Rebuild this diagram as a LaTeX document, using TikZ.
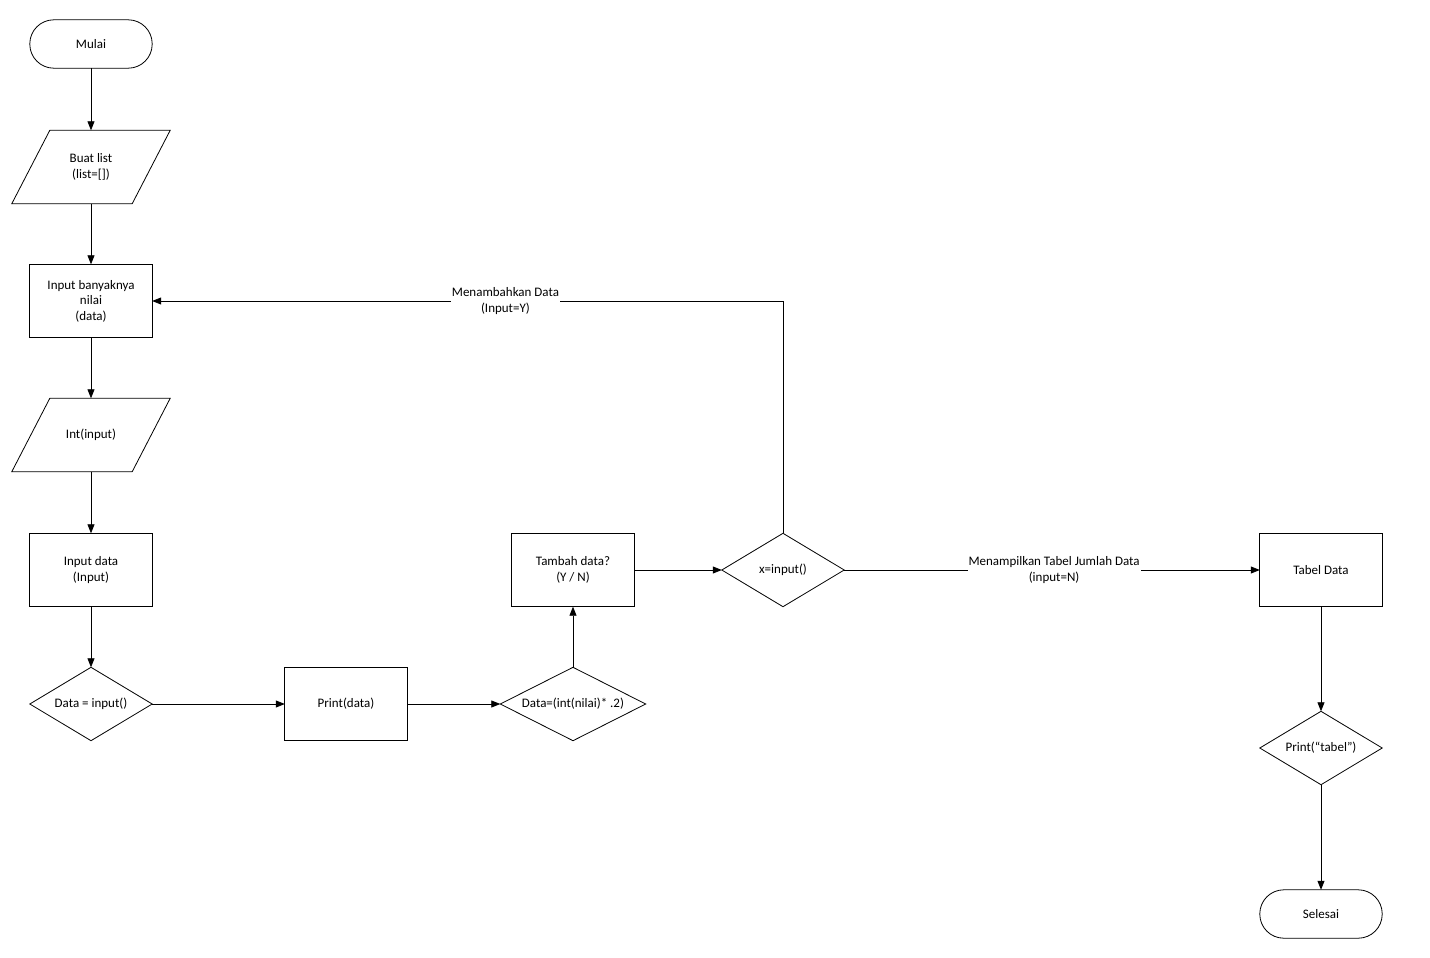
\documentclass[tikz,border=0pt]{standalone}
\usepackage{fontspec}
\setmainfont{Carlito}
\usetikzlibrary{arrows.meta}
\begin{document}
\begin{tikzpicture}[x=1pt,y=-1pt,
  box/.style={draw=none,minimum width=#1,minimum height=73,inner sep=0,align=center,font=\fontsize{13}{15.5}\selectfont},
  box/.default=122,
  shp/.style={draw=black,line width=0.8pt},
  arr/.style={draw=black,line width=0.8pt,-{Triangle[length=9,width=7]}},
  lbl/.style={fill=white,inner sep=1,align=center,font=\fontsize{13}{15.5}\selectfont}]
\useasboundingbox (0,0) rectangle (1430,958);
% nodes
\node[box,minimum height=48] (mulai) at (91,44) {Mulai};
\node[box=158] (buat) at (91,167) {Buat list\\(list=[])};
\node[box] (inb) at (91,301) {Input banyaknya\\nilai\\(data)};
\node[box=158] (intin) at (91,435) {Int(input)};
\node[box] (ind) at (91,570) {Input data\\(Input)};
\node[box] (dinp) at (91,704) {Data = input()};
\node[box] (prd) at (346,704) {Print(data)};
\node[box=145] (dcalc) at (573,704) {Data=(int(nilai)* .2)};
\node[box] (tam) at (573,570) {Tambah data?\\(Y / N)};
\node[box] (xin) at (783,570) {x=input()};
\node[box] (tab) at (1321,570) {Tabel Data};
\node[box] (ptab) at (1321,748) {Print(“tabel”)};
\node[box,minimum height=48] (sel) at (1321,914) {Selesai};
% shapes
\draw[shp,rounded corners=24] (mulai.north west) rectangle (mulai.south east);
\draw[shp,rounded corners=24] (sel.north west) rectangle (sel.south east);
\foreach \n in {buat,intin}
  \draw[shp] ([xshift=38]\n.north west) -- (\n.north east) -- ([xshift=-38]\n.south east) -- (\n.south west) -- cycle;
\foreach \n in {inb,ind,prd,tam,tab}
  \draw[shp] (\n.north west) rectangle (\n.south east);
\foreach \n in {dinp,dcalc,xin,ptab}
  \draw[shp] (\n.north) -- (\n.east) -- (\n.south) -- (\n.west) -- cycle;
% connectors
\draw[arr] (mulai) -- (buat);
\draw[arr] (buat) -- (inb);
\draw[arr] (inb) -- (intin);
\draw[arr] (intin) -- (ind);
\draw[arr] (ind) -- (dinp);
\draw[arr] (dinp) -- (prd);
\draw[arr] (prd) -- (dcalc);
\draw[arr] (dcalc) -- (tam);
\draw[arr] (tam) -- (xin);
\draw[arr] (xin.north) |- node[lbl,pos=0.72] {Menambahkan Data\\(Input=Y)} (inb.east);
\draw[arr] (xin) -- node[lbl,pos=0.505] {Menampilkan Tabel Jumlah Data\\(input=N)} (tab);
\draw[arr] (tab) -- (ptab);
\draw[arr] (ptab) -- (sel);
\end{tikzpicture}
\end{document}
